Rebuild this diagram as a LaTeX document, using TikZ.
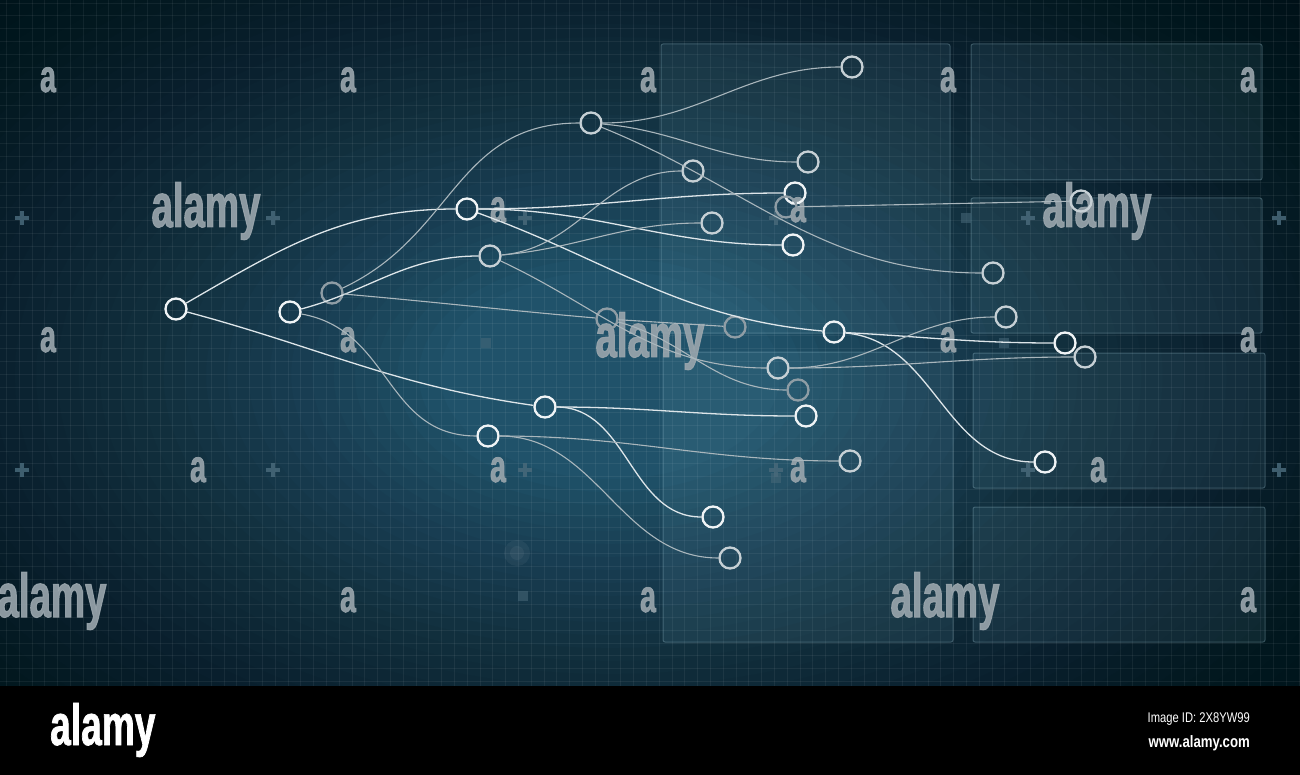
\documentclass[tikz,border=0pt]{standalone}
\usepackage{fontspec}
\setmainfont{Liberation Sans}
\newfontfamily\wmfont{Liberation Sans}[FakeStretch=0.62,FakeBold=1.6]
\newfontfamily\logofont{Liberation Sans}[FakeStretch=0.64,FakeBold=1.2]
\newfontfamily\narrowfont{Liberation Sans}[FakeStretch=0.80]
\definecolor{bgbase}{HTML}{20526A}
\definecolor{panelfill}{HTML}{7DB6CC}
\definecolor{paneledge}{HTML}{A9D0DD}
\definecolor{wmgray}{HTML}{9AA6AD}
\definecolor{plusc}{HTML}{48697A}
\definecolor{lineA}{HTML}{DDE5E9}
\definecolor{lineB}{HTML}{A9B6BC}
\definecolor{ringA}{HTML}{F0F4F6}
\definecolor{ringB}{HTML}{C6D0D5}
\definecolor{ringC}{HTML}{8F9DA5}
\tikzset{
  gridln/.style={draw=white, draw opacity=0.06, line width=0.8},
  vign/.style={fill=black, opacity=0.03, even odd rule},
  panel/.style={fill=panelfill, fill opacity=0.10, draw=paneledge, draw opacity=0.28, line width=1, rounded corners=2},
  wma/.style={text=wmgray, text opacity=0.9, font=\wmfont\bfseries\fontsize{46}{46}\selectfont, anchor=base, inner sep=0},
  wmbig/.style={text=wmgray, text opacity=0.9, font=\wmfont\bfseries\fontsize{62}{62}\selectfont, anchor=base, inner sep=0},
  plusmark/.pic={\fill[plusc, opacity=0.85] (-7,-2) rectangle (7,2); \fill[plusc, opacity=0.85] (-2,-7) rectangle (2,-2); \fill[plusc, opacity=0.85] (-2,2) rectangle (2,7);},
  sqmark/.style={fill=plusc, opacity=0.55},
  nd/.style={circle, minimum size=21, inner sep=0, line width=2.3},
  ndA/.style={nd, draw=ringA},
  ndB/.style={nd, draw=ringB},
  ndC/.style={nd, draw=ringC},
  edA/.style={draw=lineA, line width=1.3},
  edB/.style={draw=lineB, line width=1.1}
}
\begin{document}
\begin{tikzpicture}[x=1pt,y=-1pt]
\useasboundingbox (0,0) rectangle (1300,775);
% background
\begin{scope}
\clip (0,0) rectangle (1300,686);
\fill[bgbase] (0,0) rectangle (1300,686);
\foreach \r in {0.20,0.225,...,1.25} {
  \fill[vign] (-20,-20) rectangle (1320,710) (610,375) ellipse [x radius=850*\r, y radius=520*\r];
}
\foreach \gx in {6.4,19.2,...,1300} \draw[gridln] (\gx,0) -- (\gx,686);
\foreach \gy in {3,15.8,...,686} \draw[gridln] (0,\gy) -- (1300,\gy);
\fill[white, opacity=0.05] (517,553) circle (13);
\fill[white, opacity=0.05] (517,553) circle (7);
\end{scope}
\fill[black] (0,686) rectangle (1300,775);
% panels
\path[panel] (661,44) rectangle (950,333);
\path[panel] (663,352) rectangle (953,642);
\path[panel] (971,44) rectangle (1262,180);
\path[panel] (971,198) rectangle (1262,333);
\path[panel] (973,353) rectangle (1265,488);
\path[panel] (973,507) rectangle (1265,642);
% watermark decorations
\foreach \px in {22,273,525,776,1028,1279} {
  \pic at (\px,218) {plusmark};
  \pic at (\px,470) {plusmark};
}
\fill[sqmark] (481,338) rectangle (491,348);
\fill[sqmark] (518,591) rectangle (528,601);
\fill[sqmark] (961,213) rectangle (971,223);
\fill[sqmark] (999,338) rectangle (1009,348);
\fill[sqmark] (771,473) rectangle (781,483);
\foreach \wx [count=\i] in {48,348,648,948,1248} \node[wma] (wr1\i) at (\wx,92) {a};
\foreach \wx [count=\i] in {498,798} \node[wma] (wr2\i) at (\wx,222) {a};
\foreach \wx [count=\i] in {48,348,948,1248} \node[wma] (wr3\i) at (\wx,352) {a};
\foreach \wx [count=\i] in {198,498,798,1098} \node[wma] (wr4\i) at (\wx,482) {a};
\foreach \wx [count=\i] in {348,648,1248} \node[wma] (wr5\i) at (\wx,612) {a};
\node[wmbig] (wb1) at (206,227) {alamy};
\node[wmbig] (wb2) at (1097,227) {alamy};
\node[wmbig] (wb3) at (650,357) {alamy};
\node[wmbig] (wb4) at (52,617) {alamy};
\node[wmbig] (wb5) at (945,617) {alamy};
% nodes
\node[ndA] (R) at (176,309) {};
\node[ndA] (A) at (290,312) {};
\node[ndC] (B) at (332,293) {};
\node[ndA] (C) at (467,209) {};
\node[ndB] (D) at (490,256) {};
\node[ndB] (E) at (591,123) {};
\node[ndA] (F) at (545,407) {};
\node[ndA] (G) at (488,436) {};
\node[ndC] (H) at (607,319) {};
\node[ndC] (I) at (735,327) {};
\node[ndB] (J) at (693,171) {};
\node[ndB] (K) at (808,162) {};
\node[ndB] (L) at (852,67) {};
\node[ndA] (M) at (795,193) {};
\node[ndC] (M2) at (786,207) {};
\node[ndB] (N) at (712,223) {};
\node[ndA] (O) at (793,245) {};
\node[ndA] (P) at (834,332) {};
\node[ndB] (Q) at (778,368) {};
\node[ndC] (S) at (798,390) {};
\node[ndA] (T) at (806,416) {};
\node[ndB] (U) at (850,461) {};
\node[ndA] (V) at (713,517) {};
\node[ndB] (W) at (730,558) {};
\node[ndB] (X) at (1081,201) {};
\node[ndB] (Y) at (993,273) {};
\node[ndB] (Z) at (1006,317) {};
\node[ndA] (AA) at (1065,343) {};
\node[ndB] (AB) at (1085,357) {};
\node[ndA] (AC) at (1045,462) {};
% connectors
\draw[edA] (R) to[out=30,in=180] (C);
\draw[edA] (R) to[out=-15,in=172] (F);
\draw[edA] (A) to[out=15,in=180] (D);
\draw[edB] (A) to[out=-10,in=180,looseness=1.1] (G);
\draw[edB] (B) to[out=25,in=180,looseness=1.1] (E);
\draw[edB] (B) to[out=-5,in=175] (H);
\draw[edA] (C) to[out=0,in=180] (M);
\draw[edA] (C) to[out=0,in=180] (O);
\draw[edA] (C) to[out=-20,in=175] (P);
\draw[edB] (D) to[out=5,in=180] (J);
\draw[edB] (D) to[out=5,in=180] (N);
\draw[edB] (D) to[out=-25,in=180] (Q);
\draw[edB] (E) to[out=0,in=180] (L);
\draw[edB] (E) to[out=-5,in=180] (K);
\draw[edB] (E) to[out=-22,in=180] (Y);
\draw[edB] (M2) -- (X);
\draw[edB] (H) -- (I);
\draw[edB] (H) to[out=-15,in=180] (S);
\draw[edA] (P) to[out=-3,in=180] (AA);
\draw[edA] (P) to[out=-5,in=180] (AC);
\draw[edB] (Q) to[out=0,in=180] (Z);
\draw[edB] (Q) to[out=0,in=180] (AB);
\draw[edA] (F) to[out=0,in=180] (T);
\draw[edA] (F) to[out=0,in=180] (V);
\draw[edB] (G) to[out=0,in=180] (U);
\draw[edB] (G) to[out=0,in=180] (W);
% bottom bar
\node[anchor=base west, inner sep=0, text=white, font=\logofont\bfseries\fontsize{58}{58}\selectfont] (logo) at (50,745) {alamy};
\node[anchor=base east, inner sep=0, text=white, font=\narrowfont\fontsize{14}{14}\selectfont] (imgid) at (1250,722) {Image ID: 2X8YW99};
\node[anchor=base east, inner sep=0, text=white, font=\narrowfont\bfseries\fontsize{16.5}{16.5}\selectfont] (url) at (1250,747) {www.alamy.com};
\end{tikzpicture}
\end{document}
